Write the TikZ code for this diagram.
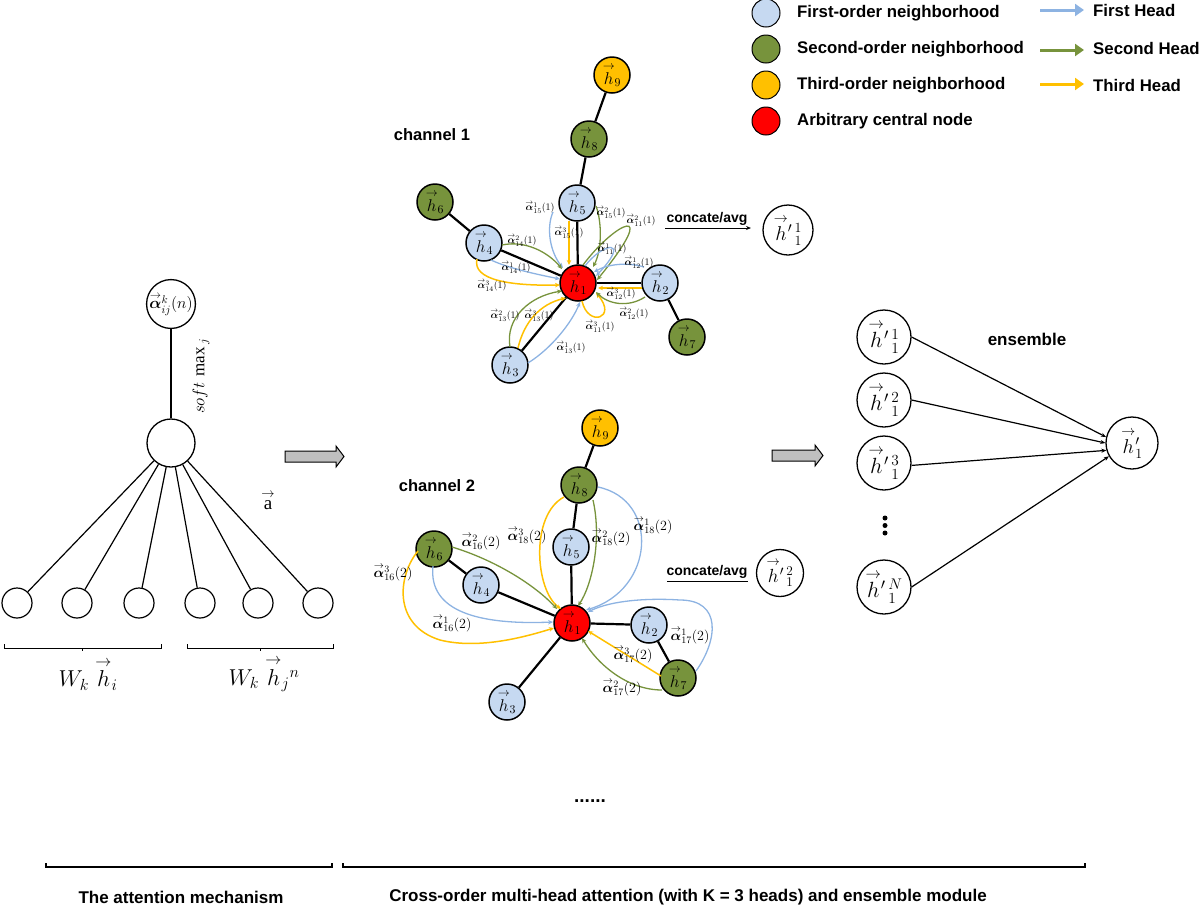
\RequirePackage{fix-cm}
\documentclass[tikz,border=0pt]{standalone}
\usepackage{amsmath}
\usepackage{fontspec}
\setmainfont{Liberation Sans}
\setmathrm{Liberation Serif}
\usetikzlibrary{arrows.meta}
\definecolor{nblue}{HTML}{C6D9F1}
\definecolor{ngreen}{HTML}{77933C}
\definecolor{nyellow}{HTML}{FFC000}
\definecolor{ablue}{HTML}{8DB3E2}
\definecolor{agreen}{HTML}{77933C}
\definecolor{ayellow}{HTML}{FFC000}
\definecolor{garrow}{HTML}{BFBFBF}
\newcommand\vh[1]{$\overset{\rightarrow}{h}_{#1}$}
\newcommand\alab[3]{$\overset{\rightarrow}{\boldsymbol{\alpha}}{}^{#1}_{#2}(#3)$}
\newcommand\hpr[1]{$\overset{\rightarrow}{h}{}'{}^{\,#1}_{\,1}$}
\begin{document}
\begin{tikzpicture}[x=1pt,y=1pt,
  every node/.style={inner sep=0pt},
  nd/.style={circle,draw,line width=1.5pt,minimum size=36pt,font=\fontsize{17}{17}\selectfont},
  n1/.style={nd,fill=nblue}, n2/.style={nd,fill=ngreen},
  n3/.style={nd,fill=nyellow}, nc/.style={nd,fill=red},
  blk/.style={line width=2.2pt},
  tipa/.style={-{Stealth[length=5pt,width=4.5pt]}},
  hb/.style={draw=ablue,line width=1.3pt,tipa},
  hg/.style={draw=agreen,line width=1.3pt,tipa},
  hy/.style={draw=ayellow,line width=1.5pt,tipa},
  lab1/.style={font=\fontsize{10}{10}\selectfont},
  lab2/.style={font=\fontsize{14}{14}\selectfont},
  lc/.style={circle,draw,line width=1pt,minimum size=28pt},
  lt/.style={anchor=west,font=\fontsize{16.8}{16.8}\selectfont\bfseries},
  la/.style={line width=3pt,-{Triangle[length=9pt,width=12pt]}},
  wn/.style={circle,draw,line width=1.3pt,fill=white},
  bt/.style={font=\fontsize{17}{17}\selectfont\bfseries},
  gar/.style={draw=black,line width=1pt,fill=garrow},
  thin/.style={line width=1.2pt},
  vdot/.style={circle,fill=black,minimum size=5pt}
]
\useasboundingbox (0,0) rectangle (1200,-906);

% ---------------- Legend ----------------
\node[lc,fill=nblue]  (L1) at (766,-13) {};
\node[lc,fill=ngreen] (L2) at (766,-49) {};
\node[lc,fill=nyellow](L3) at (766,-85) {};
\node[lc,fill=red]    (L4) at (766,-121) {};
\node[lt] (T1) at (797,-13) {First-order neighborhood};
\node[lt] (T2) at (797,-49) {Second-order neighborhood};
\node[lt] (T3) at (797,-85) {Third-order neighborhood};
\node[lt] (T4) at (797,-121) {Arbitrary central node};
\coordinate (A1s) at (1040,-10); \coordinate (A1e) at (1084,-10);
\coordinate (A2s) at (1040,-50); \coordinate (A2e) at (1084,-50);
\coordinate (A3s) at (1040,-84); \coordinate (A3e) at (1084,-84);
\draw[la,draw=ablue,color=ablue] (A1s) -- (A1e);
\draw[la,draw=agreen,color=agreen] (A2s) -- (A2e);
\draw[la,draw=ayellow,color=ayellow] (A3s) -- (A3e);
\node[lt] (H1t) at (1093,-10) {First Head};
\node[lt] (H2t) at (1093,-48) {Second Head};
\node[lt] (H3t) at (1093,-85) {Third Head};

% ---------------- Attention mechanism ----------------
\node[wn,minimum size=48pt,font=\fontsize{16}{16}\selectfont] (al) at (171,-304)
  {$\overset{\rightarrow}{\boldsymbol{\alpha}}{}^{k}_{ij}(n)$};
\node[wn,minimum size=48pt] (mid) at (171,-443) {};
\foreach \i/\x in {1/17,2/77,3/139,4/200,5/258,6/318}{
  \node[wn,minimum size=30pt,line width=1.2pt] (b\i) at (\x,-603) {};
}
\draw[thin] (al) -- (mid);
\foreach \i in {1,...,6}{ \draw[thin] (mid) -- (b\i); }
\node[rotate=90,font=\fontsize{17}{17}\selectfont] (sm) at (201,-376) {$soft\,\max{}_{j}$};
\node[font=\fontsize{19}{19}\selectfont] (avec) at (268,-500) {$\overset{\rightarrow}{\mathrm{a}}$};
\draw[line width=1pt] (4,-644) -- (4,-648) -- (161,-648) -- (161,-644);
\draw[line width=1pt] (82,-648) -- (82,-651);
\draw[line width=1pt] (187,-644) -- (187,-648) -- (333,-648) -- (333,-644);
\draw[line width=1pt] (260,-648) -- (260,-651);
\node[font=\fontsize{23}{23}\selectfont] (wi) at (88,-674) {$W_{k}\;\overset{\rightarrow}{h}_{i}$};
\node[font=\fontsize{23}{23}\selectfont] (wj) at (264,-674) {$W_{k}\;\overset{\rightarrow}{h}_{j}{}^{n}$};

% gray arrows
\draw[gar] (285,-451) -- (336,-451) -- (336,-446) -- (344,-456.5) -- (336,-467) -- (336,-462) -- (285,-462) -- cycle;
\draw[gar] (772,-450) -- (815,-450) -- (815,-445) -- (823,-455.5) -- (815,-466) -- (815,-461) -- (772,-461) -- cycle;

% ---------------- Channel 1 ----------------
\node[bt,font=\fontsize{16.5}{16.5}\selectfont\bfseries] (c1t) at (432,-135) {channel 1};
\node[n1] (a5) at (577,-203) {\vh{5}};
\node[n1] (a4) at (484,-243) {\vh{4}};
\node[n1] (a3) at (510,-365) {\vh{3}};
\node[n1] (a2) at (660,-283) {\vh{2}};
\node[n2] (a6) at (435,-202) {\vh{6}};
\node[n2] (a7) at (687,-337) {\vh{7}};
\node[n2] (a8) at (589,-139) {\vh{8}};
\node[n3] (a9) at (612,-75) {\vh{9}};
\node[nc] (a1) at (578,-283) {\vh{1}};
\draw[blk] (a1) -- (a5); \draw[blk] (a5) -- (a8); \draw[blk] (a8) -- (a9);
\draw[blk] (a1) -- (a4); \draw[blk] (a4) -- (a6);
\draw[blk] (a1) -- (a3);
\draw[blk] (a1) -- (a2); \draw[blk] (a2) -- (a7);

% heads from h5
\draw[hb] (553,-212) .. controls (546,-228) and (550,-252) .. (563,-268);
\draw[hy] (569,-221) -- (569,-265);
\draw[hg] (596,-206) .. controls (602,-222) and (602,-250) .. (593,-267);
% self loops
\draw[hg] (583,-265) .. controls (615,-222) and (662,-200) .. (597,-280);
\draw[hb] (585,-266) .. controls (603,-242) and (632,-238) .. (596,-276);
\draw[hy] (582,-301) .. controls (588,-328) and (618,-318) .. (596,-293);
% from h2
\draw[hb] (644,-267) .. controls (628,-262) and (608,-264) .. (594,-272);
\draw[hy] (642,-288) -- (598,-288);
\draw[hg] (645,-297) .. controls (628,-308) and (608,-304) .. (596,-292);
% from h4
\draw[hg] (502,-245) .. controls (525,-240) and (548,-252) .. (562,-269);
\draw[hb] (491,-260) .. controls (508,-268) and (535,-274) .. (560,-279);
\draw[hy] (477,-259) .. controls (472,-280) and (510,-286) .. (560,-285);
% from h3
\draw[hg] (510,-347) .. controls (505,-318) and (530,-296) .. (562,-291);
\draw[hy] (518,-348) .. controls (524,-322) and (540,-304) .. (566,-298);
\draw[hb] (528,-363) .. controls (552,-348) and (572,-322) .. (580,-302);

\node[lab1] (l151) at (540,-207) {\alab{1}{15}{1}};
\node[lab1] (l153) at (569,-232) {\alab{3}{15}{1}};
\node[lab1] (l152) at (611,-212) {\alab{2}{15}{1}};
\node[lab1] (l112) at (641,-220) {\alab{2}{11}{1}};
\node[lab1] (l111) at (612,-248) {\alab{1}{11}{1}};
\node[lab1] (l121) at (639,-262) {\alab{1}{12}{1}};
\node[lab1] (l142) at (522,-240) {\alab{2}{14}{1}};
\node[lab1] (l141) at (516,-267) {\alab{1}{14}{1}};
\node[lab1] (l143) at (492,-285) {\alab{3}{14}{1}};
\node[lab1] (l123) at (621,-293) {\alab{3}{12}{1}};
\node[lab1] (l122) at (634,-313) {\alab{2}{12}{1}};
\node[lab1] (l132) at (505,-315) {\alab{2}{13}{1}};
\node[lab1] (l133) at (539,-315) {\alab{3}{13}{1}};
\node[lab1] (l113) at (600,-326) {\alab{3}{11}{1}};
\node[lab1] (l131) at (571,-347) {\alab{1}{13}{1}};

\node[font=\fontsize{14}{14}\selectfont\bfseries] (ca1) at (707,-219) {concate/avg};
\node[wn,minimum size=50pt,font=\fontsize{20}{20}\selectfont] (o1) at (788,-230) {\hpr{1}};
\coordinate (ca1s) at (665,-228);
\coordinate (ca1e) at (751,-228);
\draw[line width=1pt,-{Stealth[length=5pt,width=4pt]}] (ca1s) -- (ca1e);

% ---------------- Channel 2 ----------------
\node[bt,font=\fontsize{16.5}{16.5}\selectfont\bfseries] (c2t) at (437,-486) {channel 2};
\node[n1] (b5n) at (571,-547) {\vh{5}};
\node[n1] (b4n) at (481,-585) {\vh{4}};
\node[n1] (b3n) at (507,-702) {\vh{3}};
\node[n1] (b2n) at (649,-625) {\vh{2}};
\node[n2] (b6n) at (434,-549) {\vh{6}};
\node[n2] (b7n) at (678,-678) {\vh{7}};
\node[n2] (b8n) at (579,-485) {\vh{8}};
\node[n3] (b9n) at (600,-428) {\vh{9}};
\node[nc] (b1n) at (572,-623) {\vh{1}};
\draw[blk] (b1n) -- (b5n); \draw[blk] (b5n) -- (b8n); \draw[blk] (b8n) -- (b9n);
\draw[blk] (b1n) -- (b4n); \draw[blk] (b4n) -- (b6n);
\draw[blk] (b1n) -- (b3n);
\draw[blk] (b1n) -- (b2n); \draw[blk] (b2n) -- (b7n);

% from h8
\draw[hy] (564,-497) .. controls (530,-515) and (535,-590) .. (561,-609);
\draw[hg] (593,-500) .. controls (602,-540) and (592,-585) .. (578,-606);
\draw[hb] (598,-487) .. controls (660,-500) and (655,-590) .. (586,-610);
% from h6
\draw[hg] (452,-547) .. controls (495,-560) and (535,-585) .. (557,-609);
\draw[hb] (433,-566) .. controls (428,-612) and (480,-625) .. (553,-622);
\draw[hy] (418,-551) .. controls (398,-575) and (392,-625) .. (440,-640)
                     .. controls (480,-650) and (528,-636) .. (554,-628);
% from h7
\draw[hb] (696,-671) .. controls (718,-640) and (722,-600) .. (680,-600)
                     .. controls (650,-598) and (612,-600) .. (588,-612);
\draw[hy] (661,-676) -- (588,-631);
\draw[hg] (662,-690) .. controls (628,-690) and (598,-665) .. (582,-638);

\node[lab2] (m183) at (527,-535) {\alab{3}{18}{2}};
\node[lab2] (m182) at (611,-537) {\alab{2}{18}{2}};
\node[lab2] (m181) at (653,-525) {\alab{1}{18}{2}};
\node[lab2] (m162) at (481,-541) {\alab{2}{16}{2}};
\node[lab2] (m163) at (393,-572) {\alab{3}{16}{2}};
\node[lab2] (m161) at (452,-623) {\alab{1}{16}{2}};
\node[lab2] (m171) at (690,-635) {\alab{1}{17}{2}};
\node[lab2] (m173) at (633,-654) {\alab{3}{17}{2}};
\node[lab2] (m172) at (622,-687) {\alab{2}{17}{2}};

\node[font=\fontsize{14}{14}\selectfont\bfseries] (ca2) at (707,-572) {concate/avg};
\coordinate (ca2s) at (667,-581);
\coordinate (ca2e) at (748,-581);
\draw[line width=1pt] (ca2s) -- (ca2e);
\node[wn,minimum size=47pt,font=\fontsize{19}{19}\selectfont] (o2) at (780,-573) {\hpr{2}};

\node[font=\fontsize{19}{19}\selectfont\bfseries] (dots) at (590,-801) {......};

% ---------------- Ensemble ----------------
\node[font=\fontsize{17}{17}\selectfont\bfseries] (ens) at (1027,-339) {ensemble};
\node[wn,minimum size=54pt,font=\fontsize{22}{22}\selectfont] (e1) at (884,-337) {\hpr{1}};
\node[wn,minimum size=54pt,font=\fontsize{22}{22}\selectfont] (e2) at (884,-400) {\hpr{2}};
\node[wn,minimum size=54pt,font=\fontsize{22}{22}\selectfont] (e3) at (884,-463) {\hpr{3}};
\node[vdot] (d1) at (885,-518) {};
\node[vdot] (d2) at (885,-525.5) {};
\node[vdot] (d3) at (885,-533) {};
\node[wn,minimum size=54pt,font=\fontsize{22}{22}\selectfont] (eN) at (884,-587) {\hpr{N}};
\node[wn,minimum size=52pt,font=\fontsize{20}{20}\selectfont] (out) at (1132,-443) {$\overset{\rightarrow}{h}{}'_{1}$};
\draw[thin,-{Stealth[length=5pt,width=4pt]}] (e1.east) -- (out.167);
\draw[thin,-{Stealth[length=5pt,width=4pt]}] (e2.east) -- (out.180);
\draw[thin,-{Stealth[length=5pt,width=4pt]}] (e3.-5) -- (out.196);
\draw[thin,-{Stealth[length=5pt,width=4pt]}] (eN.east) -- (out.210);

% ---------------- Bottom ----------------
\draw[line width=2.5pt] (46,-863) -- (46,-867) -- (332,-867) -- (332,-863);
\draw[line width=2.5pt] (343,-863) -- (343,-867) -- (1085,-867) -- (1085,-863);
\node[bt] (bl) at (181,-897) {The attention mechanism};
\node[bt] (br) at (688,-897) {Cross-order multi-head attention (with K = 3 heads) and ensemble module};
\end{tikzpicture}
\end{document}
